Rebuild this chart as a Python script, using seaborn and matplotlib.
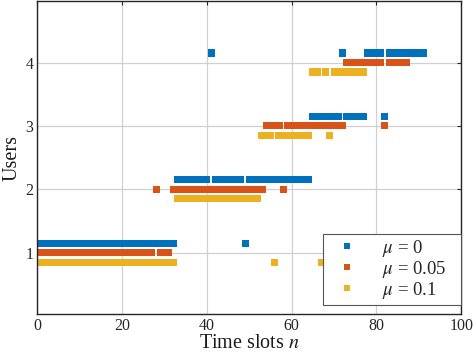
import numpy as np
import pandas as pd
import matplotlib
matplotlib.use("Agg")
import matplotlib.pyplot as plt
import seaborn as sns

# ---- data: user served in each time slot (slots start at n = 1) ----
users_mu0 = ([1] * 32 + [2] * 8 + [4] + [2] * 7 + [1] + [2] * 15 +
             [3] * 7 + [4] + [3] * 5 + [4] * 4 + [3] + [4] * 9)
users_mu005 = ([1] * 27 + [2] + [1] * 3 + [2] * 22 + [3] * 4 + [2] +
               [3] * 14 + [4] * 9 + [3] + [4] * 5)
users_mu01 = ([1] * 32 + [2] * 20 + [3] * 3 + [1] + [3] * 8 + [4] * 2 +
              [1] + [4] + [3] + [4] * 8)

labels = [r"$\mu$ = 0", r"$\mu$ = 0.05", r"$\mu$ = 0.1"]
series = [users_mu0, users_mu005, users_mu01]
offsets = [0.15, 0.0, -0.15]
colors = ["#0072BD", "#D95319", "#EDB120"]

xticks = [0, 20, 40, 60, 80, 100]
yticks = [1, 2, 3, 4]

frames = []
for lab, us, off in zip(labels, series, offsets):
    n = np.arange(1, len(us) + 1)
    frames.append(pd.DataFrame({"n": n, "y": np.array(us) + off, "mu": lab}))
df = pd.concat(frames, ignore_index=True)

sns.set_style("whitegrid")
plt.rcParams["font.family"] = ["Liberation Serif", "DejaVu Serif"]
plt.rcParams["mathtext.fontset"] = "stix"

fig = plt.figure(figsize=(4.74, 3.56), dpi=100)
ax = fig.add_axes([0.079, 0.118, 0.894, 0.879])

sns.scatterplot(data=df, x="n", y="y", hue="mu", palette=colors,
                marker="s", s=26, linewidth=0, ax=ax, legend=True)

ax.set_xlim(0, 100)
ax.set_ylim(0.03, 4.97)
ax.set_xticks(xticks)
ax.set_yticks(yticks)
ax.tick_params(direction="in", length=3, width=0.8, labelsize=11.5,
               colors="#262626", top=True, right=True, pad=3)
ax.grid(True, color="#d0d0d0", linewidth=0.9)
for sp in ax.spines.values():
    sp.set_color("#262626")
    sp.set_linewidth(1.0)
ax.set_xlabel(r"Time slots $n$", fontsize=14.5, labelpad=0, color="#1a1a1a")
ax.set_ylabel("Users", fontsize=14.5, labelpad=3, color="#1a1a1a")

leg = ax.legend(loc="lower right", bbox_to_anchor=(0.673, 0.029, 0.327, 0.2),
                mode="expand",
                fontsize=13.5, frameon=True, fancybox=False,
                edgecolor="#555555", framealpha=1, title=None,
                handletextpad=0.76, labelspacing=0.0, borderpad=0.22,
                handlelength=2.16, markerscale=0.9, borderaxespad=0)
leg.get_frame().set_linewidth(0.8)

fig.savefig("out.png", dpi=100)
